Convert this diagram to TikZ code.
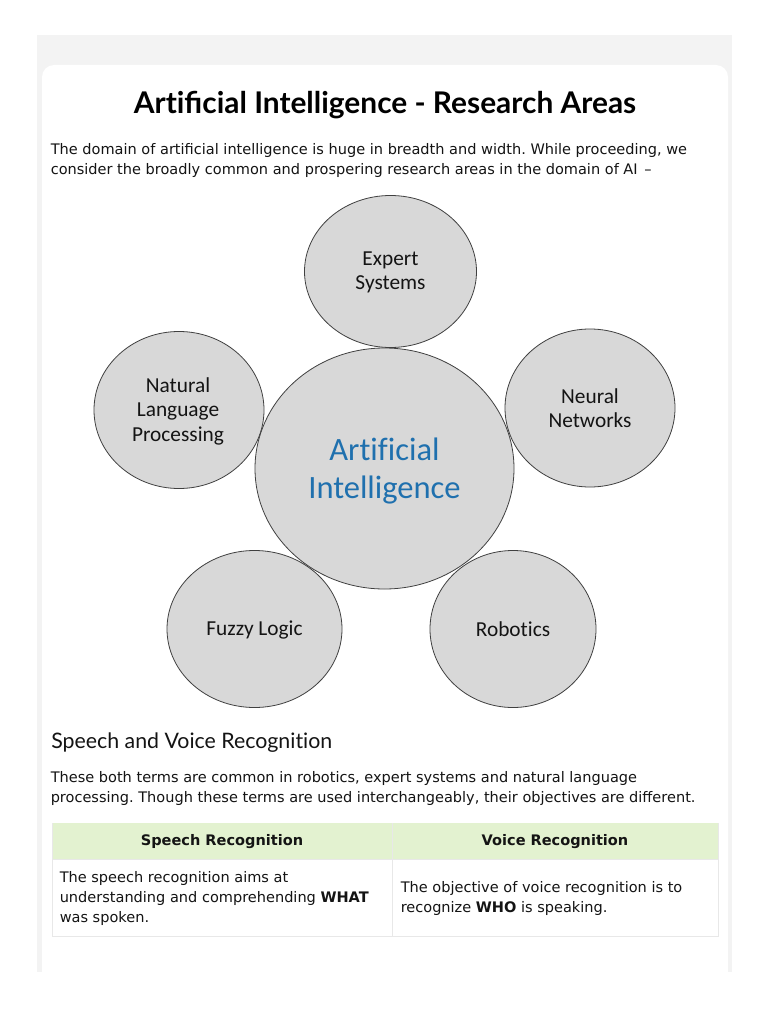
\documentclass[tikz,border=0pt]{standalone}
\usepackage{fontspec}
\setmainfont{DejaVu Sans}
\newfontfamily\latofont[Ligatures=NoCommon]{Lato}
\newfontfamily\carlitofont[Ligatures=NoCommon]{Carlito}
\definecolor{panel}{HTML}{F3F3F3}
\definecolor{bubble}{HTML}{D8D8D8}
\definecolor{headgreen}{HTML}{E3F2D0}
\definecolor{rulegray}{HTML}{E8E8E8}
\definecolor{aiblue}{HTML}{1F70AE}
\definecolor{inktext}{HTML}{141414}
\tikzset{
  bubblec/.style={draw=black!75,fill=bubble,line width=0.6pt},
  blabel/.style={font=\carlitofont\fontsize{16}{18.4}\selectfont,align=center,text=inktext,inner sep=0pt},
  body/.style={font=\frenchspacing\fontsize{10.9}{15}\selectfont,anchor=west,text=inktext,inner sep=0pt},
  thead/.style={font=\fontsize{10.9}{15}\selectfont\bfseries,text=inktext,inner sep=0pt},
  cell/.style={draw=rulegray,line width=0.6pt}
}
\begin{document}
\begin{tikzpicture}[x=0.75pt,y=-0.75pt]
\useasboundingbox (0,0) rectangle (768,1024);
\fill[white] (0,0) rectangle (768,1024);
\fill[panel] (37,35) rectangle (732,972);
\fill[white,rounded corners=9pt] (42,65) rectangle (728,1000);
\fill[white] (37,972) rectangle (732,1024);
\fill[panel] (37,900) rectangle (42,972);
\fill[panel] (728,900) rectangle (732,972);
\node[font=\latofont\bfseries\fontsize{22.4}{26}\selectfont,text=black,inner sep=0pt] (title) at (385,105.5) {Artiﬁcial Intelligence - Research Areas};
\node[body] (intro1) at (50.5,150) {The domain of artificial intelligence is huge in breadth and width. While proceeding, we};
\node[body] (intro2) at (50.5,170) {consider the broadly common and prospering research areas in the domain of AI\hspace{1.5pt} –};
% diagram
\draw[bubblec] (390.5,271.5) ellipse [x radius=86,y radius=76] node[blabel,yshift=-0.75pt] (expert) {Expert\\Systems};
\draw[bubblec] (179,410) ellipse [x radius=85,y radius=78.5] node[blabel,xshift=-0.75pt,yshift=-0.75pt] (nlp) {Natural\\Language\\Processing};
\draw[bubblec] (590,408) ellipse [x radius=85,y radius=79] node[blabel] (neural) {Neural\\Networks};
\draw[bubblec] (254.5,629) ellipse [x radius=87.5,y radius=78.5] node[blabel,yshift=-0.75pt] (fuzzy) {Fuzzy Logic};
\draw[bubblec] (513,629) ellipse [x radius=83,y radius=78.5] node[blabel] (robotics) {Robotics};
\draw[bubblec] (384.5,468.5) ellipse [x radius=129.5,y radius=120.5] node[font=\carlitofont\fontsize{24.4}{28.5}\selectfont,align=center,text=aiblue,inner sep=0pt,yshift=-1.5pt] (ai) {Artificial\\Intelligence};
\node[font=\latofont\fontsize{16}{20}\selectfont,anchor=west,text=inktext,inner sep=0pt] (h2) at (51,743) {Speech and Voice Recognition};
\node[body] (p1) at (50.5,778) {These both terms are common in robotics, expert systems and natural language};
\node[body] (p2) at (50.5,798) {processing. Though these terms are used interchangeably, their objectives are different.};
% table
\fill[headgreen] (52,823) rectangle (718,859);
\draw[cell] (52,859) rectangle (718,936);
\draw[cell] (52,823) -- (52,859);
\draw[cell] (718,823) -- (718,859);
\draw[cell] (392.5,823) -- (392.5,936);
\node[thead] (th1) at (222,842) {Speech Recognition};
\node[thead] (th2) at (555,842) {Voice Recognition};
\node[body] (c1) at (59.5,878) {The speech recognition aims at};
\node[body] (c2) at (59.5,898) {understanding and comprehending \textbf{WHAT}};
\node[body] (c3) at (59.5,918) {was spoken.};
\node[body] (d1) at (400.5,888) {The objective of voice recognition is to};
\node[body] (d2) at (400.5,908) {recognize \textbf{WHO} is speaking.};
\end{tikzpicture}
\end{document}
